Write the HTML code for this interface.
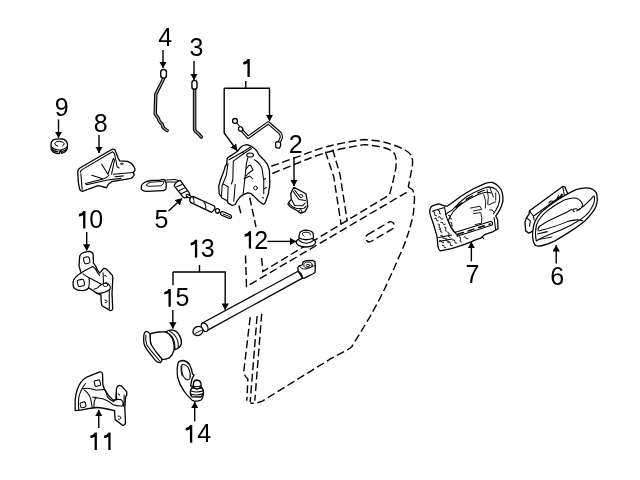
<!DOCTYPE html>
<html><head><meta charset="utf-8">
<style>
html,body{margin:0;padding:0;background:#fff;width:640px;height:480px;overflow:hidden}
svg{display:block;will-change:transform}
text{font-family:"Liberation Sans",sans-serif;font-size:25px;fill:#000}
.o{fill:#fff;stroke:#000;stroke-width:1.3;stroke-linejoin:round;stroke-linecap:round}
.l{fill:none;stroke:#000;stroke-width:1.05;stroke-linejoin:round;stroke-linecap:round}
.t{fill:none;stroke:#000;stroke-width:0.9;stroke-linejoin:round;stroke-linecap:round}
.a{fill:none;stroke:#000;stroke-width:1.4}
.d{fill:none;stroke:#000;stroke-width:1.4;stroke-dasharray:8 3.6}
.h{fill:#000}
.n{vector-effect:non-scaling-stroke}
</style></head><body>
<svg width="640" height="480" viewBox="0 0 640 480">
<defs>
<marker id="ar" viewBox="0 0 6.5 7.4" refX="6.3" refY="3.7" markerWidth="6.5" markerHeight="7.4" markerUnits="userSpaceOnUse" orient="auto"><path d="M0,0 L6.5,3.7 L0,7.4 z" fill="#000"/></marker>
</defs>

<!-- ===== DOOR (dashed) ===== -->
<g class="d">
  <path d="M271.25,166.25 L300.4,155.8 Q315,150 327.5,146.5 Q345,142 365,139.5 L376.7,140.8 Q386,142 393.3,145 Q400,147 405,150 Q410.5,153 411.7,156.7 Q413,160 412.5,165 L410,178.3 L408.3,187"/>
  <path d="M272.3,173.5 L300.4,162 Q312,157 325.4,152.7 Q345,147.5 365,144.6 L380,146.7 Q387,148 391.7,150.8 Q395,153 395.8,157.5 Q396.5,162 395.8,168.3 L393.3,180 L389.5,194.8"/>
  <path d="M325.4,151.7 L333.75,176.7 L341.1,224.5"/>
  <path d="M332.7,149.6 L340,174.6 L347.3,221.4"/>
  <path d="M245.5,255.5 L246.5,286.5 L408,191.5"/>
  <path d="M261.6,258 L262.8,271.5 L390,194.5"/>
  <path d="M408.3,187 L412.2,189.4 Q414.5,193 414.5,198.75 L414.1,204 Q413.8,215 411.25,222.5 Q409.5,230 407.5,235.6 Q405,243 401.9,250.6 Q398,259 394.4,267.5 L385,288.1 L380,298.3 L370,316.7 L360,333.3 L351.7,346.7 Q350,348.5 348.3,349.2 L330,359.2 L262.8,400.8 Q256,404 250.2,403"/>
  <path d="M249.7,197.5 L256,227"/>
  <path d="M238.9,205.5 L241.5,216"/>
  <path d="M250.2,317.2 L243.8,371 Q244,376 247.9,379 L246.8,400.8"/>
  <path d="M257.1,316 L250.2,402"/>
  <path d="M261.7,313.75 L254.8,400.8"/>
  <rect x="364" y="228" width="32" height="7.6" rx="3.8" transform="rotate(-30.5 380 231.8)"/>
</g>

<!-- ===== LABELS ===== -->
<text x="158.36" y="45.95">4</text>
<text x="189.41" y="55.52">3</text>
<path class="h" transform="translate(249.75,59.00)" d="M0,0 L0,17.90 L-2.3,17.90 L-2.3,4.3 Q-4,5.4 -6.5,5.6 L-6.5,3.0 Q-3.3,2.7 -2.1,0 Z"/>
<text x="288.81" y="153.07">2</text>
<text x="54.79" y="115.82">9</text>
<text x="93.71" y="131.62">8</text>
<text x="154.49" y="228.37">5</text>
<path class="h" transform="translate(85.40,210.90)" d="M0,0 L0,17.50 L-2.3,17.50 L-2.3,4.3 Q-4,5.4 -6.5,5.6 L-6.5,3.0 Q-3.3,2.7 -2.1,0 Z"/>
<text x="89.31" y="228.27">0</text>
<path class="h" transform="translate(251.10,231.25)" d="M0,0 L0,17.15 L-2.3,17.15 L-2.3,4.3 Q-4,5.4 -6.5,5.6 L-6.5,3.0 Q-3.3,2.7 -2.1,0 Z"/>
<text x="254.16" y="248.55">2</text>
<path class="h" transform="translate(197.20,239.80)" d="M0,0 L0,17.70 L-2.3,17.70 L-2.3,4.3 Q-4,5.4 -6.5,5.6 L-6.5,3.0 Q-3.3,2.7 -2.1,0 Z"/>
<text x="200.81" y="257.32">3</text>
<path class="h" transform="translate(170.80,288.90)" d="M0,0 L0,17.80 L-2.3,17.80 L-2.3,4.3 Q-4,5.4 -6.5,5.6 L-6.5,3.0 Q-3.3,2.7 -2.1,0 Z"/>
<text x="175.39" y="306.32">5</text>
<path class="h" transform="translate(96.90,432.50)" d="M0,0 L0,17.50 L-2.3,17.50 L-2.3,4.3 Q-4,5.4 -6.5,5.6 L-6.5,3.0 Q-3.3,2.7 -2.1,0 Z"/>
<path class="h" transform="translate(110.60,432.50)" d="M0,0 L0,17.50 L-2.3,17.50 L-2.3,4.3 Q-4,5.4 -6.5,5.6 L-6.5,3.0 Q-3.3,2.7 -2.1,0 Z"/>
<path class="h" transform="translate(192.25,425.00)" d="M0,0 L0,17.75 L-2.3,17.75 L-2.3,4.3 Q-4,5.4 -6.5,5.6 L-6.5,3.0 Q-3.3,2.7 -2.1,0 Z"/>
<text x="197.16" y="442.45">4</text>
<text x="465.51" y="283.32">7</text>
<text x="550.36" y="285.17">6</text>

<!-- ===== ARROWS ===== -->
<g class="a">
  <path d="M163,50 L163,68" marker-end="url(#ar)"/>
  <path d="M194,61 L194,80" marker-end="url(#ar)"/>
  <path d="M58.5,119.4 L58.5,137.8" marker-end="url(#ar)"/>
  <path d="M99,135 L99,153" marker-end="url(#ar)"/>
  <path d="M294,157 L294,186" marker-end="url(#ar)"/>
  <path d="M168.5,211 L182,198.5" marker-end="url(#ar)"/>
  <path d="M86.7,232 L86.7,250.5" marker-end="url(#ar)"/>
  <path d="M267.5,241.4 L296,241.4" marker-end="url(#ar)"/>
  <path d="M172.8,310 L172.8,328.5" marker-end="url(#ar)"/>
  <path d="M98.75,428.1 L98.75,410" marker-end="url(#ar)"/>
  <path d="M194.7,421.4 L194.7,402" marker-end="url(#ar)"/>
  <path d="M471.35,261.4 L471.35,242" marker-end="url(#ar)"/>
  <path d="M556.2,263.5 L556.2,245.3" marker-end="url(#ar)"/>
  <!-- bracket 1 -->
  <path d="M245.8,81 L245.8,88.3"/>
  <path d="M224.2,88.3 L269.5,88.3 L269.5,121" marker-end="url(#ar)"/>
  <path d="M224.2,88.3 L224.2,133 L237,150.5" marker-end="url(#ar)"/>
  <!-- bracket 13 -->
  <path d="M199.5,265 L199.5,272"/>
  <path d="M173,272 L225.2,272 L225.2,309.7" marker-end="url(#ar)"/>
  <path d="M173,272 L173,285.3"/>
</g>

<!-- ===== PART 4 rod ===== -->
<path d="M164,78 L155.8,94.3 L155.2,114.1 L158.3,118.3 Q159,121 160.2,122.3 Q162.4,123.6 162.6,125.6 Q163,128.3 165,129 L167.2,130.6" fill="none" stroke="#000" stroke-width="3.4" stroke-linecap="round" stroke-linejoin="round"/>
<path d="M164,78 L155.8,94.3 L155.2,114.1 L158.3,118.3 Q159,121 160.2,122.3 Q162.4,123.6 162.6,125.6 Q163,128.3 165,129 L167.2,130.6" fill="none" stroke="#aaa" stroke-width="1.2" stroke-linecap="round" stroke-linejoin="round"/>
<rect x="160.7" y="69.5" width="5.7" height="8.6" rx="2.8" class="o" style="stroke-width:1.4"/>

<!-- ===== PART 3 rod ===== -->
<path d="M194.6,89 L194.6,129.5 L196,132 Q198,132.8 198.8,134.2 L201.3,137" fill="none" stroke="#000" stroke-width="3.5" stroke-linecap="round" stroke-linejoin="round"/>
<path d="M194.6,89 L194.6,129.5 L196,132 Q198,132.8 198.8,134.2 L201.3,137" fill="none" stroke="#8c8c8c" stroke-width="1.5" stroke-linecap="round" stroke-linejoin="round"/>
<rect x="191.9" y="80.4" width="5.1" height="8.9" rx="2.5" class="o" style="stroke-width:1.4"/>

<!-- ===== PART 1 rod ===== -->
<path d="M242,130.5 L248.15,137.3 L268.3,122.8 L280.5,133.6 Q281.6,136 281.2,138 L279,142.5" fill="none" stroke="#000" stroke-width="3.3" stroke-linecap="round" stroke-linejoin="round"/>
<path d="M242,130.5 L248.15,137.3 L268.3,122.8 L280.5,133.6 Q281.6,136 281.2,138 L279,142.5" fill="none" stroke="#fff" stroke-width="1.1" stroke-linecap="round" stroke-linejoin="round"/>
<circle cx="235" cy="120.9" r="2.4" class="o"/>
<path class="l" d="M236.8,122.8 L240,127"/>
<path class="o" d="M238.5,127.5 L240.5,126.5 Q243,127.5 243,130 L241.5,131.5 Q239,131.5 238.5,129.5 Z"/>
<path class="o" d="M275.5,143 Q276,141.5 278,141.8 L280.3,142.3 Q281,143.5 280.5,146 L279.5,148 Q277,148.3 275.8,147.3 Z"/>

<!-- ===== PART 1 lock body ===== -->
<path class="o" d="M220.6,179.4 L223.9,170.9 L225.3,166.25 L226.7,164.4 L227.2,158.3 L229,156.9 L237.5,151.25 L240.3,147.5 Q243,145 246.9,144.7 Q250.6,145.5 254.4,148.4 L256.7,150.8 L259,155 L263.75,159.7 L267.5,164.4 L269.4,170 L269.8,184.4 L268.4,193.75 L265.1,203.1 Q263.5,204.5 262.8,204 L259,201.25 L254.4,196.6 L250.6,193.3 L247.8,192.8 L243.1,194.7 L240.3,196.6 L237.5,200.3 L235.2,204.5 L232.3,205.5 L228.1,203.1 L227.2,200.8 L222,198 L219.2,193.75 L218.75,186.25 Z"/>
<path class="l" d="M229,159.7 L243.1,151.7 L250.6,147 M233.3,161.1 L243.1,154 L251.5,148.5 M243,151.5 L243.3,154.2"/>
<path class="l" d="M228,163.4 L226.25,175.6 L225.3,177.8 L222,186.25 L221.6,195.6 M233.3,161.6 L232.8,180 L231.4,184 M223,183.9 L228.1,186.7 L227.65,200.3 M235.2,184.4 L233.75,201.25"/>
<path class="l" d="M247.8,157.8 L246.4,163.4 L245,177.5 L243.1,194.7 M245.5,170 L248.75,165.5 L250.6,165.3 L253,170 L248.75,173 L246,176 M244,178.75 L249.7,176 L252.5,178.75"/>
<path class="l" d="M254.4,159.7 Q260,163 261.9,168.1 L263.75,180 L263.75,193.75 M263.75,179.7 L265.6,178.5 M263.75,189 L266.5,187.5 M262.8,197.5 L263.5,198"/>
<ellipse cx="250.1" cy="155" rx="3.4" ry="2.1" class="l"/>
<circle cx="255.5" cy="188" r="1.9" class="t"/>

<!-- ===== PART 2 ===== -->
<path class="o" d="M294,187.3 L304,192.7 L306,194 L307,199.3 L307.7,206.7 L305.3,211.3 L300.7,213.3 L297.3,210.7 L290,206.7 L288,204 L289,202 L291.3,199.3 L290.7,194 L292.7,189.3 Z"/>
<path class="l" d="M293.3,191.5 L299,199.5 L305.5,200.5 M294.8,190.2 L300,197 M291.5,199.5 L294.7,205.5 L302.7,205.7 L305,203 M289,203 Q292,207.5 297,208.5 L304,208.2 L306,206.5"/>
<path class="t" d="M300,194.5 Q303,194 302.8,196.5 Q302,198 300.5,197.5 M298.7,211.5 Q299,209.2 301.3,209.5 Q302.5,211 301.5,212.5"/>

<!-- ===== PART 12 ===== -->
<ellipse cx="305.9" cy="242.2" rx="9.7" ry="4.8" class="o"/>
<path class="l" d="M299,240.5 Q306,246 313.5,240.5"/>
<path class="o" d="M299,238 Q299,233 301,231.5 Q303.5,230.2 306.5,230.2 Q310.5,230.4 312.5,232.2 Q313.6,234 313.5,238 Q306,241.5 299,238 Z"/>
<path class="t" d="M304,236 Q301.5,234.5 302.5,233 Q304.5,232 308,232.3 Q311,233 310.5,235"/>

<!-- ===== PART 9 nut ===== -->
<g transform="translate(46,134) scale(0.05)">
<path class="o n" d="M100,210 Q105,130 170,108 Q230,95 330,100 Q410,115 430,200 L425,290 Q410,350 330,380 L310,385 L300,330 L280,330 L270,390 L200,385 Q120,360 105,300 Z"/>
<path class="l n" d="M105,265 Q180,320 265,320 M300,320 Q390,300 428,250 M108,300 Q170,350 240,355 M320,350 Q400,330 425,290"/>
<path class="l n" d="M230,240 Q170,225 175,185 Q195,145 265,145 Q350,150 365,195 Q360,225 330,240" style="stroke-width:1"/>
</g>

<!-- ===== PART 8 ===== -->
<g transform="translate(72,144) scale(0.10417)">
<path class="o n" d="M55,262 Q58,238 80,228 L385,50 Q405,45 413,58 L441,130 L457,162 L533,166 Q575,180 589,210 Q608,235 605,250 L589,274 L597,298 Q585,322 565,330 L469,346 L381,362 L349,386 L333,418 Q315,420 293,410 L250,400 L100,455 Q78,452 72,430 L60,360 Z"/>
<path class="l n" d="M80,272 Q82,252 100,244 L389,74 Q402,82 409,98 L433,218 L453,230 M85,285 L98,440"/>
<path class="l n" d="M285,194 L345,290 L397,138 L407,155 L380,290 M355,300 Q330,330 300,335 L190,300 M300,335 L130,380 L140,392 L320,350 M320,350 L345,345 L470,330 M397,290 L589,274 M413,314 L493,306"/>
<ellipse cx="477" cy="190" rx="12" ry="7" class="t n"/>
</g>

<!-- ===== PART 5 ===== -->
<path class="o" d="M141.4,185.75 Q142,183.5 146.6,181.5 L150.9,180.5 L158.6,180.4 L163.8,179.4 Q165.6,180 166,182.5 L166.35,185 L165.9,189.2 Q165,190.5 163,190.6 L146.6,191.3 Q142.5,191.2 141.3,189 Z"/>
<path class="l" d="M146.5,185 Q147,182.6 151,182.2 L163.8,181.3 Q164.5,183.5 161,185.8 L149,186.3 Q146.5,186.3 146.5,185 Z" style="stroke-width:0.9"/>
<path d="M166,181 L174.5,180.6 Q177.5,180.8 179.5,183" fill="none" stroke="#000" stroke-width="3.1" stroke-linecap="round"/>
<path d="M166,181 L174.5,180.6 Q177.5,180.8 179.5,183" fill="none" stroke="#fff" stroke-width="1.1" stroke-linecap="round"/>
<path class="o" d="M174.2,185.8 Q175.5,181.5 180.3,180.3 L189,192.6 Q190.3,194.8 189.6,195.8 L187.7,197.4 Q184.5,198.3 183.3,197.3 Z"/>
<path class="l" d="M176.7,186.8 L181.9,184.4 M179.4,190.5 L185.3,187.6 M181.2,193.8 L187,191"/>
<path d="M187.2,195.5 L193,198.5" fill="none" stroke="#000" stroke-width="3.3" stroke-linecap="round"/>
<path d="M187.2,195.5 L193,198.5" fill="none" stroke="#fff" stroke-width="1.1" stroke-linecap="round"/>
<path class="o" d="M192.9,196.3 L214.4,206 Q215.3,208 214.8,209 L211.6,212.4 L190.5,202.3 Q189,199.5 190.6,197.3 Z"/>
<path class="l" d="M204,202.4 Q206.5,205 205.6,209.2 M192.5,196.8 Q194.5,199 194,202.8"/>
<path class="o" d="M215.5,209.5 Q217.5,207.5 219.5,209.8 Q220,212.5 218,213.3 Q216,213.2 215.5,211.5 Z"/>
<path class="o" d="M220.5,212.5 Q222,211 224,212 L230.5,215 Q232.2,216.5 231.2,217.8 Q229.5,218.6 228,218 L221.5,215.2 Q220,214 220.5,212.5 Z"/>
<path class="t" d="M223,214 L229.5,216.5"/>

<!-- ===== PART 10 hinge ===== -->
<g transform="translate(68,248) scale(0.13754)">
<path class="o n" d="M80,130 L85,60 Q92,38 115,32 L150,25 Q178,28 183,45 L185,110 L200,130 L215,160 L230,182 L243,168 L255,152 Q265,145 278,152 L322,198 Q328,210 325,232 L320,330 L325,440 Q322,455 308,455 L248,420 Q240,405 240,340 L210,330 L175,305 L150,290 Q140,305 110,310 Q70,312 48,295 Q30,275 40,235 Q55,205 95,182 Z"/>
<path class="l n" d="M95,182 Q110,170 180,135 Q205,150 212,175 L230,200 M110,188 L150,215 L240,262 M150,215 Q160,240 150,290 M190,300 L215,290 Q235,262 280,252 Q305,262 308,290 L305,300 M210,328 Q250,335 300,305 M255,180 L258,255 M300,300 L300,440"/>
<rect x="115" y="65" width="42" height="48" rx="12" class="l n" transform="rotate(-12 136 89)"/>
<rect x="70" y="230" width="48" height="48" rx="12" class="l n" transform="rotate(-12 94 254)"/>
<ellipse cx="272" cy="268" rx="18" ry="12" class="t n"/>
<path class="t n" d="M268,378 Q285,375 285,392 Q280,402 270,398"/>
<path class="t n" d="M265,200 Q275,190 280,210"/>
</g>

<!-- ===== PART 11 hinge ===== -->
<g transform="translate(70,368) scale(0.12903)">
<path class="o n" d="M40,330 L40,250 Q45,200 55,170 Q70,130 85,110 Q105,85 130,70 L230,30 Q250,28 252,45 L255,130 Q262,155 270,170 L300,215 L335,250 L355,245 L360,160 Q365,140 382,135 L400,140 L440,185 L440,210 L430,225 L425,310 L430,420 Q428,445 410,445 L350,400 L345,330 Q300,318 250,310 Q210,302 175,310 L140,315 Q100,328 40,330 Z"/>
<path class="l n" d="M68,325 Q62,280 68,230 Q80,170 120,120 M100,160 Q140,150 200,170 Q240,172 268,165 M110,170 Q150,200 160,240 Q170,280 172,305 M175,225 Q220,232 260,240 Q300,255 335,285 Q380,300 420,290 M268,165 Q285,195 290,225 Q310,248 340,262 M345,250 Q360,240 395,245 Q415,258 410,290 M185,300 Q185,260 200,225 M360,190 L362,240 M420,210 L418,300"/>
<rect x="190" y="95" width="45" height="45" rx="10" class="l n" transform="rotate(-15 212 117)"/>
<rect x="80" y="265" width="42" height="40" rx="10" class="l n" transform="rotate(-15 101 285)"/>
<path class="t n" d="M372,372 Q395,368 395,388 Q390,402 375,398"/>
<path class="t n" d="M372,200 Q385,195 385,212"/>
</g>

<!-- ===== PART 13 rod ===== -->
<path class="o" d="M202,323.3 L298.1,271.25 L302.5,278.1 L207.8,330.1 Z"/>
<ellipse cx="204.6" cy="327.2" rx="3" ry="4.6" class="o" transform="rotate(-28 204.6 327.2)"/>
<ellipse cx="198" cy="331" rx="5.2" ry="4.4" class="o" transform="rotate(-28 198 331)"/>
<path class="t" d="M195,333.5 L202,330"/>
<path class="o" d="M298.1,271.25 L297.8,267.5 L299.4,265.9 L302.2,265 L303.1,261.9 L306.25,260.6 L312.5,260.3 L315,261.9 L315.3,266.25 L315,272.5 L313.1,273.75 L304.4,278.1 L302.5,278.1 Q302,273 298.1,271.25 Z"/>
<path class="t" d="M299.5,266 Q301,269.5 306,269 L315,265.5"/>
<ellipse cx="308" cy="265" rx="4.2" ry="3" class="t"/>
<ellipse cx="308" cy="265.5" rx="1.8" ry="1.2" class="t"/>

<!-- ===== PART 15 boot ===== -->
<g transform="translate(140,325) scale(0.08534)">
<path class="o n" d="M300,82 Q330,60 370,58 Q420,62 455,110 Q490,160 485,215 Q478,262 410,290 Q380,200 300,82 Z"/>
<path class="l n" d="M315,88 Q380,120 400,190 Q412,240 410,288 M345,72 Q415,110 440,180 Q452,225 448,262"/>
<path class="o n" d="M118,105 Q160,88 220,82 Q275,78 300,82 Q345,100 380,160 Q405,215 400,290 Q385,350 345,385 Q300,405 255,405 L240,395 Q180,330 130,240 Q115,170 118,105 Z"/>
<path class="o n" d="M75,75 Q95,75 118,105 Q115,150 125,220 Q180,315 255,395 Q262,425 240,440 Q215,445 180,415 L90,300 Q50,250 45,210 Q40,130 50,100 Q60,78 75,75 Z"/>
<path class="l n" d="M70,120 Q60,180 80,235 Q140,320 235,425"/>
</g>

<!-- ===== PART 14 ===== -->
<g transform="translate(172,357) scale(0.10000)">
<path class="o n" d="M60,60 Q75,35 110,35 Q150,40 175,75 Q200,120 205,170 L220,180 L200,220 L185,290 L290,300 Q312,315 315,360 Q312,410 290,430 Q260,445 220,440 Q195,435 185,415 Q150,385 120,340 Q75,280 55,200 Q45,120 60,60 Z"/>
<path class="l n" d="M100,75 Q140,70 165,110 Q190,160 180,215 Q165,235 140,225 Q105,195 98,140 Q95,95 100,75 Z"/>
<path class="t n" d="M90,90 Q85,140 100,190"/>
<path class="o n" d="M195,310 L300,308 Q318,330 315,360 L290,400 L200,398 Q180,375 182,348 Z"/>
<path class="l n" d="M190,340 Q250,360 312,338 M188,370 Q250,390 305,368"/>
<path class="o n" d="M215,260 Q220,232 250,230 Q285,235 290,265 L290,300 Q270,320 250,320 Q225,318 212,300 Z"/>
<path class="l n" d="M212,290 Q250,305 290,288"/>
</g>

<!-- ===== PART 7 ===== -->
<g transform="translate(426,178) scale(0.15842)">
<path class="o n" d="M24,201 Q30,180 43,175 L80,164 L121,178 L134,178 Q180,145 221,115 Q260,90 300,68 Q340,48 379,32 Q400,26 418,28 Q440,35 457,52 Q476,70 481,91 Q488,120 485,147 Q478,178 465,202 Q452,228 440,240 L452,262 L455,320 L420,340 L370,358 L345,380 Q310,392 284,403 Q220,430 160,446 L90,460 Q78,452 75,430 L70,370 L50,300 Q35,260 24,220 Z"/>
<path class="l n" d="M43,208 L80,197 L117,186 Q122,210 125,231 Q133,260 144,283 Q158,310 174,332 Q188,350 200,366"/>
<path class="l n" d="M125,231 Q140,215 166,202 Q210,150 260,115 Q300,92 339,76 Q370,60 394,56 Q425,58 442,72 Q462,90 465,115 Q468,140 457,170 Q445,200 426,226"/>
<path class="l n" d="M181,344 Q150,315 142,265 Q155,235 174,210 Q200,180 237,155 Q280,125 323,107 Q350,95 371,91 Q395,88 410,95"/>
<path class="l n" d="M181,344 L410,273 M197,368 L418,297 M80,375 L160,360 M85,400 L165,385 M430,250 L440,330 M410,273 Q425,280 418,297"/>
<path class="t n" d="M200,355 L405,290" style="stroke-dasharray:6 5;stroke-width:1.5"/>
<path class="l n" d="M280,190 L340,178 L352,198 L300,208 M300,225 L345,218 Q358,250 350,285 L310,295 M385,70 Q400,120 390,165 M405,65 L425,120 M440,95 L440,140 M365,105 Q385,150 375,190 M395,170 L440,150 M400,200 Q420,195 430,215" style="stroke-width:0.9"/>
<path class="l n" d="M345,380 Q350,370 360,375 L365,385" style="stroke-width:1"/>
<path class="t n" d="M43,212 Q60,210 55,225 Q50,241 66,239 M77,205 Q90,203 85,216 Q80,228 94,227 M55,254 Q67,250 66,262 Q65,275 77,271 M76,247 Q89,237 92,252 Q95,268 107,258 M76,290 Q91,290 84,304 Q77,317 92,318 M93,280 Q105,272 107,286 Q110,301 122,292 M84,323 Q96,321 93,333 Q89,345 101,343 M117,309 Q132,310 125,323 Q117,336 132,336 M93,362 Q106,357 105,371 Q104,386 117,380 M137,343 Q153,345 144,359 Q135,372 151,375 M85,397 Q96,389 99,403 Q101,416 112,408 M120,382 Q135,378 132,394 Q129,410 145,406 M103,426 Q114,421 114,433 Q114,445 125,440 M141,402 Q157,398 153,415 Q150,431 166,427 M168,391 Q183,385 182,401 Q181,417 195,411 M210,372 Q227,375 217,389 Q207,402 223,405 M239,373 Q250,365 252,378 Q254,390 265,383 M142,236 Q156,233 152,247 Q148,262 163,259 M156,280 Q169,281 163,292 Q156,303 169,304" style="stroke-width:0.9"/>
<path class="t n" d="M190,185 Q240,140 300,108 Q340,88 380,72" style="stroke-dasharray:7 6;stroke-width:1.3"/>
</g>

<!-- ===== PART 6 ===== -->
<g transform="translate(518,180) scale(0.15413)">
<path class="o n" d="M75,200 L290,42 L305,45 L325,95 L330,110 L160,260 L120,320 L70,345 L50,330 L45,275 L55,245 L70,225 Z"/>
<path class="l n" d="M100,235 L290,95 M75,200 L100,235 L105,260 M55,245 L80,265 L75,300 M290,42 L300,95 M200,150 Q210,130 230,140 L290,105 M255,120 L262,100 M275,108 L282,90"/>
<path class="o n" d="M100,400 Q92,360 95,340 Q98,300 110,270 Q125,235 150,210 Q190,175 240,140 Q290,105 340,80 Q380,60 410,55 Q450,48 470,55 Q505,68 512,95 Q520,130 508,165 Q495,195 490,200 Q465,235 430,270 Q380,310 330,340 Q285,368 240,395 Q200,415 160,425 Q130,432 115,425 Q103,415 100,400 Z"/>
<path class="l n" d="M118,395 Q108,340 120,290 Q140,240 190,200 Q240,160 300,130 Q350,112 380,118 Q410,130 420,160 Q415,185 395,195 Q380,180 360,190 Q350,200 365,205 M350,190 Q320,210 260,235 Q190,265 140,300 Q128,310 130,330 M380,200 L425,170 Q470,130 490,105 Q500,100 495,140 Q480,190 440,230 Q400,265 330,300 Q270,330 200,355 Q150,375 120,395 M140,330 Q250,300 320,270 Q380,250 420,265 M125,350 L190,335"/>
<path class="t n" d="M130,385 Q180,380 220,370"/>
</g>

</svg>
</body></html>
